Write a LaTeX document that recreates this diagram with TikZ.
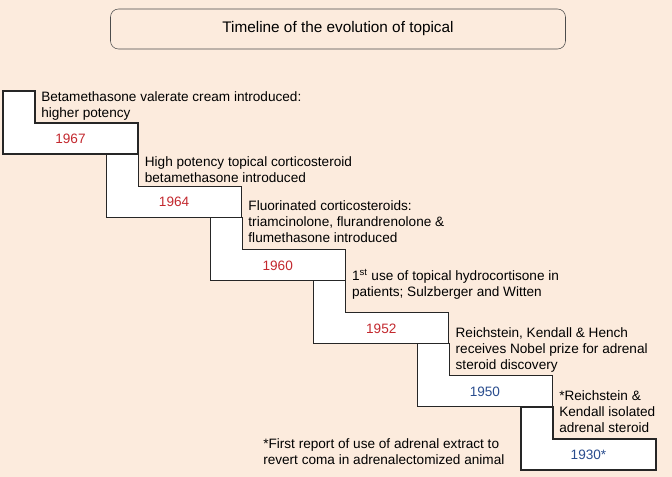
\documentclass[tikz,border=0pt]{standalone}
\usepackage{fontspec}
\setmainfont{Liberation Sans}
\definecolor{bg}{HTML}{FCEBDD}
\definecolor{yred}{HTML}{C3282E}
\definecolor{yblue}{HTML}{2A4D8E}
\begin{document}
\begin{tikzpicture}[x=0.75pt,y=-0.75pt,
  stepbox/.style={draw=black!85,fill=white,line width=0.8pt},
  lab/.style={anchor=west,align=left,inner sep=0pt,font=\fontsize{10.2}{12}\selectfont},
  yr/.style={font=\fontsize{10.2}{12}\selectfont,inner sep=0pt}]
\fill[bg] (0,0) rectangle (672,477);
\useasboundingbox (0,0) rectangle (672,477);
\node[draw=black!70,fill=bg,rounded corners=6pt,minimum width=455*0.75pt,minimum height=40*0.75pt,font=\fontsize{11.5}{13}\selectfont] (title) at (338,29) {Timeline of the evolution of topical};
\foreach \i/\yt/\col in {0/1967/yred,1/1964/yred,2/1960/yred,3/1952/yred,4/1950/yblue,5/1930*/yblue}{
  \pgfmathsetmacro{\L}{3+103.6*\i}
  \pgfmathsetmacro{\N}{\L+32}
  \pgfmathsetmacro{\R}{\L+135}
  \pgfmathsetmacro{\T}{91+63.2*\i}
  \pgfmathsetmacro{\M}{\T+32}
  \pgfmathsetmacro{\B}{\T+63}
  \draw[stepbox] (\L,\T) -- (\N,\T) -- (\N,\M) -- (\R,\M) -- (\R,\B) -- (\L,\B) -- cycle;
  \node[yr,text=\col] (y\i) at ({(\L+\R)/2},{\M+16}) {\yt};
}
\node[lab] (t1) at (41,105.5) {Betamethasone valerate cream introduced:\\higher potency};
\node[lab] (t2) at (144.6,169.5) {High potency topical corticosteroid\\betamethasone introduced};
\node[lab] (t3) at (248.2,222) {Fluorinated corticosteroids:\\triamcinolone, flurandrenolone \&\\flumethasone introduced};
\node[lab] (t4) at (351.8,284) {1\textsuperscript{st} use of topical hydrocortisone in\\patients; Sulzberger and Witten};
\node[lab] (t5) at (455.4,350) {Reichstein, Kendall \& Hench\\receives Nobel prize for adrenal\\steroid discovery};
\node[lab] (t6) at (559,412) {*Reichstein \&\\Kendall isolated\\adrenal steroid};
\node[lab] (fn) at (263,452) {*First report of use of adrenal extract to\\revert coma in adrenalectomized animal};
\end{tikzpicture}
\end{document}
